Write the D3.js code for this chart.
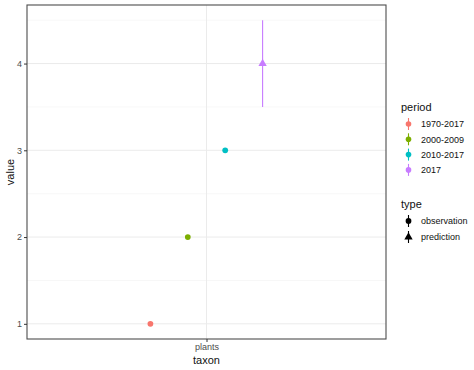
<!DOCTYPE html>
<html>
<head>
<meta charset="utf-8">
<script src="https://cdn.jsdelivr.net/npm/d3@7"></script>
<style>
  html, body { margin: 0; padding: 0; background: #fff; }
  svg { display: block; font-family: "Liberation Sans", Arial, sans-serif; }
</style>
</head>
<body>
<div id="chart"></div>
<script>
// data
const taxa = ["plants"];
const periods = ["1970-2017", "2000-2009", "2010-2017", "2017"];
const values = [1, 2, 3, 4];
const lower = [null, null, null, 3.5];
const upper = [null, null, null, 4.5];
const types = ["observation", "observation", "observation", "prediction"];
const typeLevels = ["observation", "prediction"];
const yTicks = [1, 2, 3, 4];
const colors = ["#F8766D", "#7CAE00", "#00BFC4", "#C77CFF"];

const width = 474, height = 370;
const margin = { left: 27, top: 5, right: 88, bottom: 31 };
const pw = width - margin.left - margin.right;
const ph = height - margin.top - margin.bottom;

const svg = d3.select("#chart").append("svg")
    .attr("width", width)
    .attr("height", height);

const g = svg.append("g").attr("transform", `translate(${margin.left},${margin.top})`);

// scales
const lo = d3.min(values.concat(lower.filter(d => d != null)));
const hi = d3.max(values.concat(upper.filter(d => d != null)));
const pad = (hi - lo) * 0.05;
const y = d3.scaleLinear().domain([lo - pad, hi + pad]).range([ph, 0]);
const x = d3.scaleLinear().domain([0.4, taxa.length + 0.6]).range([0, pw]);
const color = d3.scaleOrdinal().domain(periods).range(colors);
const dodge = 0.5 / periods.length;
const xpos = i => x(1 + (i - (periods.length - 1) / 2) * dodge);

// grid
const minor = d3.range(lo - 0.5, hi + 0.51, 1).filter(v => y(v) >= 0 && y(v) <= ph);
g.selectAll(".minor").data(minor).enter().append("line")
    .attr("x1", 0).attr("x2", pw)
    .attr("y1", d => y(d)).attr("y2", d => y(d))
    .attr("stroke", "#f2f2f2").attr("stroke-width", 0.6);
g.selectAll(".major").data(yTicks).enter().append("line")
    .attr("x1", 0).attr("x2", pw)
    .attr("y1", d => y(d)).attr("y2", d => y(d))
    .attr("stroke", "#ebebeb").attr("stroke-width", 1);
g.selectAll(".vmajor").data(taxa).enter().append("line")
    .attr("x1", (d, i) => x(i + 1)).attr("x2", (d, i) => x(i + 1))
    .attr("y1", 0).attr("y2", ph)
    .attr("stroke", "#ebebeb").attr("stroke-width", 1);

// error bars + points
periods.forEach((p, i) => {
    if (lower[i] != null) {
        g.append("line")
            .attr("x1", xpos(i)).attr("x2", xpos(i))
            .attr("y1", y(lower[i])).attr("y2", y(upper[i]))
            .attr("stroke", color(p)).attr("stroke-width", 1.1);
    }
    const sym = types[i] === "prediction" ? d3.symbolTriangle : d3.symbolCircle;
    g.append("path")
        .attr("transform", `translate(${xpos(i)},${y(values[i])})`)
        .attr("d", d3.symbol().type(sym).size(types[i] === "prediction" ? 30 : 26)())
        .attr("fill", color(p));
});

// border
g.append("rect").attr("width", pw).attr("height", ph)
    .attr("fill", "none").attr("stroke", "#4d4d4d").attr("stroke-width", 1.1);

// axes
const yAxis = g.append("g").call(d3.axisLeft(y).tickValues(yTicks).tickSize(3).tickPadding(2).tickFormat(d3.format("d")));
yAxis.select(".domain").remove();
yAxis.selectAll("line").attr("stroke", "#333");
yAxis.selectAll("text").attr("fill", "#4d4d4d").style("font-size", "9px");

const xAxis = g.append("g").attr("transform", `translate(0,${ph})`)
    .call(d3.axisBottom(x).tickValues(taxa.map((d, i) => i + 1)).tickSize(3).tickPadding(2).tickFormat((d, i) => taxa[i]));
xAxis.select(".domain").remove();
xAxis.selectAll("line").attr("stroke", "#333");
xAxis.selectAll("text").attr("fill", "#4d4d4d").style("font-size", "9px");

svg.append("text").attr("x", margin.left + pw / 2).attr("y", 364)
    .attr("text-anchor", "middle").style("font-size", "11px").attr("fill", "#111").text("taxon");
svg.append("text").attr("transform", `translate(14,${margin.top + ph / 2}) rotate(-90)`)
    .attr("text-anchor", "middle").style("font-size", "11px").attr("fill", "#111").text("value");

// legends
const lx = 401;
const leg1 = svg.append("g").attr("transform", `translate(${lx},0)`);
leg1.append("text").attr("x", 0).attr("y", 111).style("font-size", "11px").attr("fill", "#111").text("period");
periods.forEach((p, i) => {
    const cy = 124 + i * 15.3;
    leg1.append("line").attr("x1", 7.5).attr("x2", 7.5).attr("y1", cy - 6).attr("y2", cy + 6)
        .attr("stroke", color(p)).attr("stroke-width", 1.1);
    leg1.append("circle").attr("cx", 7.5).attr("cy", cy).attr("r", 2.8).attr("fill", color(p));
    leg1.append("text").attr("x", 20).attr("y", cy + 3.3).style("font-size", "9px").attr("fill", "#111").text(p);
});

const leg2 = svg.append("g").attr("transform", `translate(${lx},0)`);
leg2.append("text").attr("x", 0).attr("y", 208).style("font-size", "11px").attr("fill", "#111").text("type");
typeLevels.forEach((t, i) => {
    const cy = 221 + i * 16;
    leg2.append("line").attr("x1", 7.5).attr("x2", 7.5).attr("y1", cy - 6).attr("y2", cy + 6)
        .attr("stroke", "#000").attr("stroke-width", 1.1);
    const sym = t === "prediction" ? d3.symbolTriangle : d3.symbolCircle;
    leg2.append("path").attr("transform", `translate(7.5,${cy})`)
        .attr("d", d3.symbol().type(sym).size(t === "prediction" ? 30 : 26)()).attr("fill", "#000");
    leg2.append("text").attr("x", 20).attr("y", cy + 3.3).style("font-size", "9px").attr("fill", "#111").text(t);
});
</script>
</body>
</html>
